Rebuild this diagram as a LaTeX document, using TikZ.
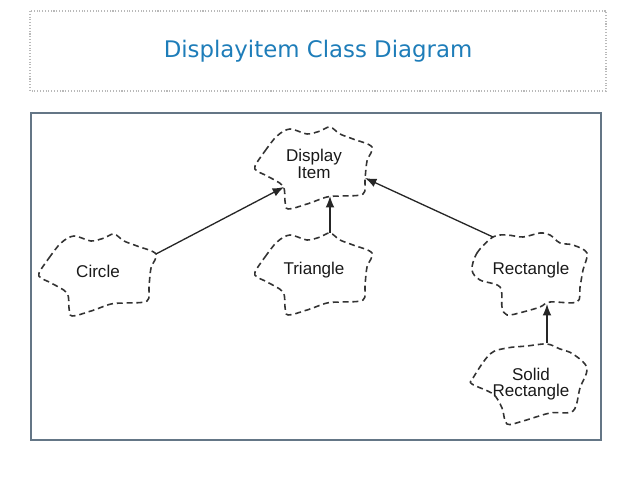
\documentclass[tikz,border=0pt]{standalone}
\usepackage{fontspec}
\setmainfont{Liberation Sans}
\newfontfamily\titlefont{DejaVu Sans}
\usetikzlibrary{arrows.meta,calc}
\definecolor{titleblue}{RGB}{30,125,185}
\definecolor{framegray}{RGB}{100,118,134}

\begin{document}
\begin{tikzpicture}[x=0.02cm,y=-0.02cm]
\tikzset{cls/.style = {align=center, inner sep=0pt, text=black!90, font=\fontsize{9.7}{9.3}\selectfont}}
\tikzset{cloudline/.style = {draw=black!80, line width=0.9pt, dash pattern=on 3.4pt off 2.2pt, line join=round}}
\tikzset{edge/.style = {-{Latex[length=6.5pt,width=5pt]}, line width=0.75pt, draw=black!85}}
\tikzset{pics/cloudA/.style = {code={
  \draw[cloudline] plot[smooth cycle,tension=0.55] coordinates {(-59,2) (-49,-13) (-37,-28) (-24,-35) (-7,-30) (6,-33) (16,-37) (26,-30) (39,-25) (58,-17) (53,-3) (51,15) (49,30) (26,32) (13,33) (-7,40) (-26,45) (-29,37) (-31,22) (-47,12) (-57,7)};}}}
\tikzset{pics/cloudB/.style = {code={
  \draw[cloudline] plot[smooth cycle,tension=0.55] coordinates {(-59,0) (-54,-17) (-38,-33) (-24,-35) (-8,-33) (9,-37) (19,-35) (29,-27) (42,-25) (56,-17) (52,0) (49,17) (46,32) (19,32) (9,37) (-8,42) (-24,45) (-29,37) (-31,17) (-51,10)};}}}
\tikzset{pics/cloudC/.style = {code={
  \draw[cloudline] plot[smooth cycle,tension=0.55] coordinates {(-59,0) (-58,-6) (-41,-30) (-24,-36) (-4,-38) (16,-40) (29,-35) (42,-30) (56,-16) (49,4) (42,27) (19,29) (-8,37) (-24,40) (-29,24) (-38,10)};}}}

\useasboundingbox (0,0) rectangle (638,479);

% title
\draw[gray!55, densely dotted, line width=0.6pt] (30,11) rectangle (606,91);
\node[text=titleblue, font=\titlefont\fontsize{13}{15}\selectfont] (title) at (318,51) {Displayitem Class Diagram};
\draw[framegray, line width=0.6pt] (31,113) rectangle (601,440);

% classes
\foreach \pos/\name/\txt in {{(314,164)/disp/{Display\\Item}}, {(98,271)/circ/Circle}, {(314,270)/tri/Triangle}, {(531,270)/rect/Rectangle}, {(531,384)/srect/{Solid\\Rectangle}}}
\node[cls] (\name) at \pos {\txt};

\pic at (disp) {cloudA};
\pic at (circ) {cloudA};
\pic at (tri) {cloudA};
\pic at (rect) {cloudB};
\pic at (srect) {cloudC};

% inheritance
\draw[edge] ($(circ)+(58,-17)$) -- ($(disp)+(-30,23)$);
\draw[edge] ($(tri)+(16,-37)$) -- ($(disp)+(16,32)$);
\draw[edge] ($(rect)+(-38,-33)$) -- ($(disp)+(51,14)$);
\draw[edge] ($(srect)+(16,-41)$) -- ($(rect)+(16,34)$);
\end{tikzpicture}
\end{document}
